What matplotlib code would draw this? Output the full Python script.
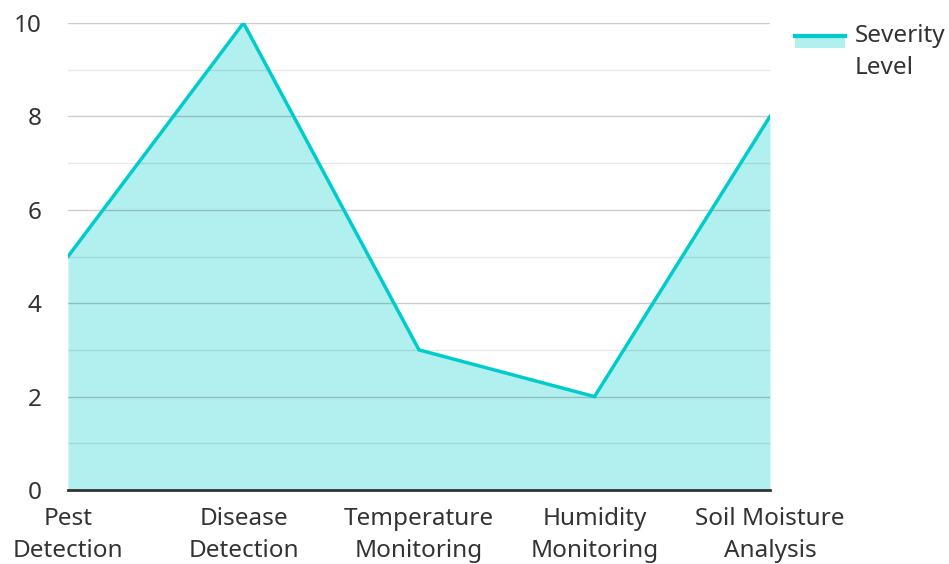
import matplotlib.pyplot as plt
from matplotlib.patches import Rectangle
from matplotlib.lines import Line2D

categories = ["Pest\nDetection", "Disease\nDetection", "Temperature\nMonitoring",
              "Humidity\nMonitoring", "Soil Moisture\nAnalysis"]
severity = [5, 10, 3, 2, 8]
series_name = "Severity\nLevel"

line_col = "#00cccc"
fill_col = "#b2efef"

plt.rcParams['font.family'] = ['Noto Sans', 'DejaVu Sans']

W, H = 949, 564
fig = plt.figure(figsize=(W / 100, H / 100), dpi=100)
ax = fig.add_axes([68 / W, 1 - 490 / H, (770 - 68) / W, (490 - 23) / H])

x = list(range(len(categories)))
ax.fill_between(x, severity, 0, color=fill_col, lw=0, zorder=1)
ax.plot(x, severity, color=line_col, lw=2.5, zorder=4, solid_joinstyle='miter')

ax.set_xlim(0, len(categories) - 1)
ax.set_ylim(0, 10)
ax.set_yticks(range(0, 11, 2))
ax.set_yticks(range(1, 10, 2), minor=True)
ax.grid(axis='y', which='major', color='#000000', alpha=0.2, lw=1, zorder=2)
ax.grid(axis='y', which='minor', color='#000000', alpha=0.09, lw=1, zorder=2)

fs = 17.5
ax.set_xticks(x)
ax.set_xticklabels(categories, fontsize=fs, color='#333333', linespacing=1.45)
ax.tick_params(axis='y', which='both', length=0, pad=19, labelsize=fs, labelcolor='#333333')
ax.tick_params(axis='x', length=0, pad=12)

for s in ['top', 'right', 'left']:
    ax.spines[s].set_visible(False)
ax.spines['bottom'].set_color('#333333')
ax.spines['bottom'].set_linewidth(2)
ax.spines['bottom'].set_zorder(5)

# legend drawn by hand
fig.add_artist(Rectangle((795 / W, 1 - 48 / H), 50 / W, 11 / H,
                         transform=fig.transFigure, color=fill_col, lw=0))
fig.add_artist(Line2D([795 / W, 845 / W], [1 - 36 / H, 1 - 36 / H],
                      transform=fig.transFigure, color=line_col, lw=3))
fig.text(855 / W, 1 - 24 / H, series_name, fontsize=fs, color='#333333',
         va='top', ha='left', linespacing=1.45)

fig.savefig("out.png", dpi=100)
